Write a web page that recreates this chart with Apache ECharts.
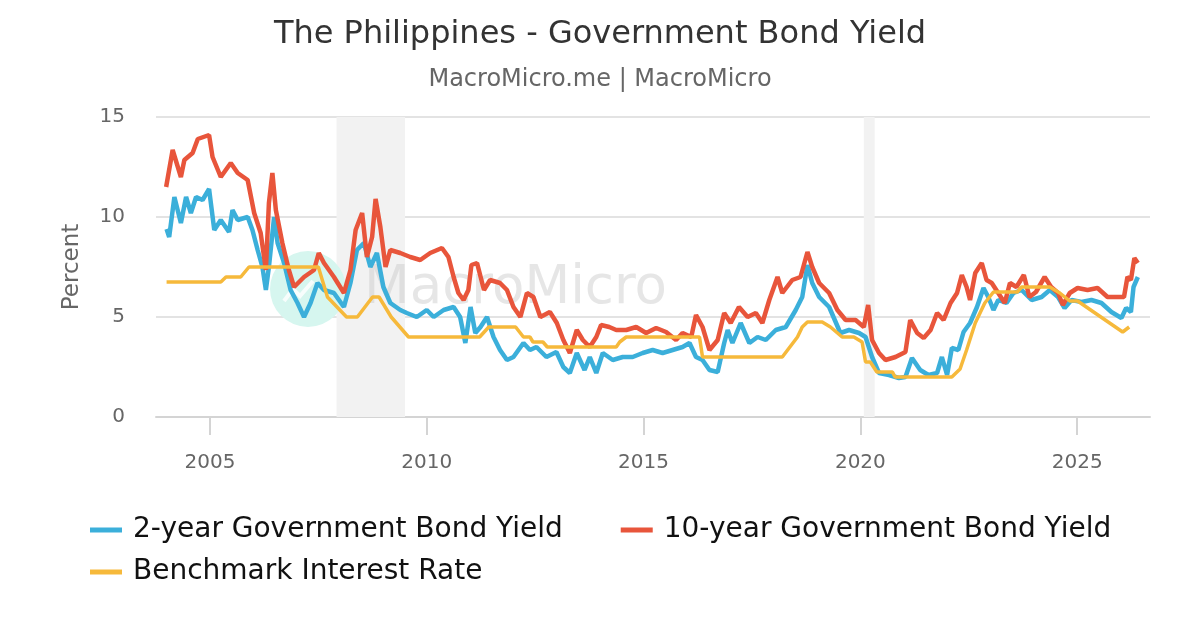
<!DOCTYPE html>
<html>
<head>
<meta charset="utf-8">
<script src="https://cdn.jsdelivr.net/npm/echarts@6/dist/echarts.min.js"></script>
<style>
  html, body { margin: 0; padding: 0; background: #ffffff; }
  #chart { width: 1200px; height: 630px; }
</style>
</head>
<body>
<div id="chart"></div>
<script>
// ---- Data (decimal years) ----
const years2y = [2004.00,2004.06,2004.18,2004.33,2004.45,2004.56,2004.68,2004.83,2004.98,2005.10,2005.25,2005.44,2005.52,2005.64,2005.87,2005.98,2006.10,2006.21,2006.29,2006.36,2006.48,2006.56,2006.71,2006.86,2007.02,2007.17,2007.32,2007.48,2007.63,2007.86,2008.09,2008.24,2008.39,2008.55,2008.70,2008.85,2009.00,2009.16,2009.39,2009.54,2009.77,2010.00,2010.16,2010.39,2010.62,2010.77,2010.89,2011.01,2011.12,2011.24,2011.39,2011.54,2011.69,2011.85,2012.00,2012.23,2012.38,2012.53,2012.76,2012.99,2013.15,2013.30,2013.46,2013.64,2013.76,2013.91,2014.06,2014.29,2014.52,2014.75,2014.98,2015.21,2015.44,2015.67,2015.90,2016.06,2016.21,2016.36,2016.52,2016.71,2016.86,2016.94,2017.05,2017.24,2017.44,2017.63,2017.82,2018.05,2018.28,2018.51,2018.66,2018.78,2018.89,2019.05,2019.28,2019.54,2019.74,2019.97,2020.12,2020.27,2020.43,2020.66,2020.89,2021.04,2021.19,2021.38,2021.57,2021.77,2021.88,2022.00,2022.11,2022.26,2022.38,2022.53,2022.69,2022.84,2022.95,2023.07,2023.18,2023.37,2023.53,2023.72,2023.95,2024.18,2024.37,2024.56,2024.71,2024.87,2025.10,2025.33,2025.56,2025.79,2026.02,2026.13,2026.24,2026.30,2026.40];
const vals2y = [9.4,9.0,11.0,9.7,11.0,10.2,11.0,10.85,11.4,9.35,9.85,9.25,10.35,9.85,10.0,9.35,8.35,7.5,6.35,7.5,10.0,8.7,7.7,6.35,5.7,5.0,5.7,6.7,6.35,6.2,5.5,6.7,8.35,8.7,7.5,8.2,6.5,5.7,5.35,5.2,5.0,5.35,5.0,5.35,5.5,5.0,3.7,5.5,4.2,4.5,5.0,4.0,3.35,2.85,3.0,3.7,3.35,3.5,3.0,3.25,2.5,2.2,3.2,2.35,3.0,2.2,3.2,2.85,3.0,3.0,3.2,3.35,3.2,3.35,3.5,3.7,3.0,2.85,2.35,2.25,3.7,4.35,3.7,4.7,3.7,4.0,3.85,4.35,4.5,5.35,6.0,7.6,6.7,6.0,5.5,4.2,4.35,4.2,4.0,3.0,2.2,2.1,1.95,2.0,2.95,2.35,2.1,2.2,3.0,2.1,3.45,3.35,4.25,4.7,5.5,6.45,6.0,5.35,5.85,5.7,6.2,6.35,5.85,6.0,6.35,6.0,5.45,5.85,5.75,5.85,5.7,5.25,4.95,5.45,5.25,6.5,7.0];

const years10y = [2003.99,2004.14,2004.33,2004.41,2004.60,2004.72,2004.98,2005.06,2005.25,2005.48,2005.64,2005.87,2006.02,2006.17,2006.29,2006.36,2006.44,2006.52,2006.67,2006.82,2006.94,2007.17,2007.40,2007.51,2007.63,2007.86,2008.09,2008.24,2008.36,2008.51,2008.62,2008.74,2008.82,2008.93,2009.05,2009.16,2009.39,2009.62,2009.85,2010.08,2010.35,2010.50,2010.62,2010.73,2010.85,2010.96,2011.03,2011.16,2011.32,2011.46,2011.69,2011.85,2012.00,2012.16,2012.31,2012.46,2012.62,2012.84,2013.00,2013.15,2013.30,2013.46,2013.60,2013.76,2013.91,2014.02,2014.21,2014.37,2014.60,2014.83,2015.06,2015.29,2015.52,2015.75,2015.90,2016.10,2016.21,2016.36,2016.52,2016.71,2016.86,2017.01,2017.20,2017.40,2017.59,2017.74,2017.90,2018.09,2018.20,2018.43,2018.62,2018.78,2018.89,2019.05,2019.28,2019.47,2019.66,2019.89,2020.08,2020.18,2020.27,2020.43,2020.58,2020.81,2021.04,2021.15,2021.31,2021.46,2021.62,2021.77,2021.92,2022.08,2022.23,2022.34,2022.45,2022.53,2022.65,2022.80,2022.91,2023.03,2023.18,2023.33,2023.45,2023.60,2023.77,2023.90,2024.05,2024.25,2024.40,2024.56,2024.67,2024.83,2025.01,2025.24,2025.47,2025.70,2025.93,2026.08,2026.16,2026.24,2026.32,2026.40];
const vals10y = [11.5,13.35,12.0,12.85,13.2,13.9,14.1,13.0,12.0,12.7,12.2,11.85,10.2,9.2,7.35,10.7,12.2,10.35,8.7,7.35,6.5,7.0,7.35,8.2,7.7,7.0,6.2,7.35,9.35,10.2,8.0,9.0,10.9,9.5,7.5,8.35,8.2,8.0,7.85,8.2,8.45,8.0,7.0,6.2,5.85,6.35,7.6,7.7,6.35,6.85,6.7,6.35,5.5,5.0,6.2,6.0,5.0,5.25,4.7,3.85,3.2,4.35,3.85,3.5,4.0,4.6,4.5,4.35,4.35,4.5,4.2,4.45,4.25,3.85,4.2,4.0,5.1,4.5,3.35,3.85,5.2,4.7,5.5,5.0,5.2,4.7,5.85,7.0,6.2,6.85,7.0,8.25,7.5,6.7,6.2,5.35,4.85,4.85,4.5,5.6,3.85,3.2,2.85,3.0,3.25,4.85,4.2,3.95,4.35,5.2,4.85,5.7,6.2,7.1,6.5,5.85,7.2,7.7,6.85,6.7,6.2,5.7,6.7,6.5,7.1,6.0,6.25,7.0,6.5,6.2,5.6,6.2,6.45,6.35,6.45,6.0,6.0,6.0,7.0,6.85,7.95,7.7];

const yearsRate = [2004.00,2005.25,2005.37,2005.71,2005.90,2007.50,2007.71,2008.15,2008.40,2008.75,2008.90,2009.18,2009.58,2011.22,2011.43,2012.05,2012.14,2012.23,2012.38,2012.45,2012.68,2012.78,2014.37,2014.45,2014.60,2016.29,2016.36,2018.20,2018.55,2018.66,2018.78,2019.12,2019.31,2019.58,2019.85,2020.04,2020.12,2020.23,2020.38,2020.74,2020.80,2022.11,2022.30,2022.45,2022.65,2022.87,2023.07,2023.62,2023.72,2024.37,2024.60,2024.83,2025.01,2026.05,2026.20];
const valsRate = [6.75,6.75,7.0,7.0,7.5,7.5,6.0,5.0,5.0,6.0,6.0,5.0,4.0,4.0,4.5,4.5,4.25,4.0,4.0,3.75,3.75,3.5,3.5,3.75,4.0,4.0,3.0,3.0,4.0,4.5,4.75,4.75,4.5,4.0,4.0,3.75,2.75,2.75,2.25,2.25,2.0,2.0,2.4,3.35,4.7,5.7,6.25,6.25,6.5,6.5,6.2,5.8,5.8,4.25,4.5];

const xTicks = [2005, 2010, 2015, 2020, 2025];
const recessions = [[2007.92, 2009.5], [2020.08, 2020.33]];

const seriesNames = ['2-year Government Bond Yield', '10-year Government Bond Yield', 'Benchmark Interest Rate'];
const colors = ['#3bafda', '#e8553b', '#f6b93b'];

function pairs(xs, ys) { return xs.map((x, i) => [x, ys[i]]); }

const FONT = 'DejaVu Sans';
const chart = echarts.init(document.getElementById('chart'), null, { renderer: 'canvas' });

const option = {
  animation: false,
  backgroundColor: '#ffffff',
  textStyle: { fontFamily: FONT },
  title: {
    text: 'The Philippines - Government Bond Yield',
    subtext: 'MacroMicro.me | MacroMicro',
    left: 'center',
    top: 14,
    itemGap: 17,
    textStyle: { fontFamily: FONT, fontSize: 32, fontWeight: 'normal', color: '#333333' },
    subtextStyle: { fontFamily: FONT, fontSize: 24, color: '#666666' }
  },
  legend: [
    {
      data: [seriesNames[0], seriesNames[1]],
      left: 85, top: 511,
      icon: 'rect', itemWidth: 32, itemHeight: 5, itemGap: 58,
      textStyle: { fontFamily: FONT, fontSize: 28, color: '#111111', padding: [0, 0, 0, 6] }
    },
    {
      data: [seriesNames[2]],
      left: 85, top: 553,
      icon: 'rect', itemWidth: 32, itemHeight: 5,
      textStyle: { fontFamily: FONT, fontSize: 28, color: '#111111', padding: [0, 0, 0, 6] }
    }
  ],
  grid: { left: 156, right: 50, top: 117, bottom: 213, containLabel: false },
  graphic: [
    { type: 'circle', z: 1.5, silent: true, shape: { cx: 308, cy: 289, r: 38 }, style: { fill: '#d6f6ef' } },
    { type: 'polyline', z: 1.5, silent: true, shape: { points: [[284, 301], [293, 289], [300, 296], [313, 281]] }, style: { stroke: '#ffffff', lineWidth: 4, fill: null, opacity: 0.8 } },
    { type: 'text', z: 1.5, silent: true, x: 364, y: 289, style: { text: 'MacroMicro', fontFamily: FONT, fontSize: 53, fill: 'rgba(200,200,200,0.45)', verticalAlign: 'middle', align: 'left' } }
  ],
  xAxis: {
    type: 'value',
    min: 2003.756,
    max: 2026.68,
    axisLine: { show: true, lineStyle: { color: '#d4d4d4', width: 2 } },
    axisTick: { show: true, customValues: xTicks, length: 18, lineStyle: { color: '#d4d4d4', width: 2 } },
    axisLabel: { customValues: xTicks, margin: 36, fontSize: 20, color: '#666666', fontFamily: FONT, formatter: v => String(Math.round(v)) },
    splitLine: { show: false }
  },
  yAxis: {
    type: 'value',
    min: 0, max: 15, interval: 5,
    name: 'Percent',
    nameLocation: 'middle',
    nameGap: 72,
    nameRotate: 90,
    nameTextStyle: { fontFamily: FONT, fontSize: 23, color: '#666666' },
    axisLine: { show: false },
    axisTick: { show: false },
    axisLabel: { margin: 31, fontSize: 20, color: '#666666', fontFamily: FONT },
    splitLine: { lineStyle: { color: '#e3e3e3', width: 2 } }
  },
  series: [
    {
      name: seriesNames[0], type: 'line', data: pairs(years2y, vals2y),
      showSymbol: false, symbol: 'none', color: colors[0],
      lineStyle: { width: 4.5, color: colors[0] },
      markArea: {
        silent: true,
        itemStyle: { color: '#f2f2f2' },
        data: recessions.map(r => [{ xAxis: r[0] }, { xAxis: r[1] }])
      }
    },
    {
      name: seriesNames[1], type: 'line', data: pairs(years10y, vals10y),
      showSymbol: false, symbol: 'none', color: colors[1],
      lineStyle: { width: 4.5, color: colors[1] }
    },
    {
      name: seriesNames[2], type: 'line', data: pairs(yearsRate, valsRate),
      showSymbol: false, symbol: 'none', color: colors[2],
      lineStyle: { width: 3.5, color: colors[2] }
    }
  ]
};
chart.setOption(option);
</script>
</body>
</html>
